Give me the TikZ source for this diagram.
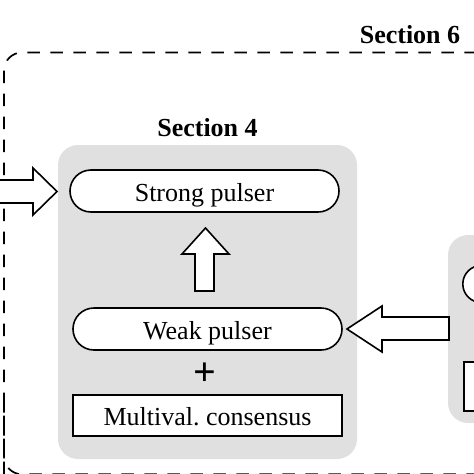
\documentclass[tikz,border=0pt]{standalone}
\usepackage{fontspec}
\setmainfont{Liberation Serif}
\definecolor{panel}{RGB}{224,224,224}
\tikzset{
  pill/.style={draw, line width=1.6pt, fill=white, rounded corners=21pt, minimum width=269pt, minimum height=42pt, inner sep=0pt, text height=21pt, text depth=0pt, font=\fontsize{26}{30}\selectfont},
  plainbox/.style={draw, line width=1.6pt, fill=white, minimum width=269pt, minimum height=41pt, inner sep=0pt, text height=20pt, text depth=0pt, font=\fontsize{26}{30}\selectfont},
  blockarrow/.style={draw, line width=1.6pt, fill=white, line join=miter},
  sectionlabel/.style={font=\fontsize{26}{30}\selectfont\bfseries, inner sep=0pt, anchor=base},
  panelbox/.style={fill=panel, rounded corners=20pt},
  sixdash/.style={line width=1.7pt, dash pattern=on 12.5pt off 10.5pt, rounded corners=18pt},
}
\begin{document}
\begin{tikzpicture}[x=1pt, y=-1pt]
\useasboundingbox (0,0) rectangle (474,474);
\clip (0,0) rectangle (474,474);
% outer dashed section 6
\draw[sixdash] (4,474) -- (4,52.5) -- (520,52.5);
\draw[sixdash] (4,400) -- (4,474.3) -- (520,474.3);
\node[sectionlabel] (sec6) at (410,43) {Section 6};
% section 4 panel
\fill[panelbox] (58,145) rectangle (357,459);
\node[sectionlabel] (sec4) at (207.5,136) {Section 4};
% right panel
\fill[panelbox] (448,235) rectangle (540,423);
\node[pill, minimum width=100pt, minimum height=37pt, rounded corners=18.5pt, anchor=west] (rpill) at (462,284) {};
\node[plainbox, minimum width=100pt, minimum height=49pt, anchor=west] (rbox) at (463,386.5) {};
% nodes
\node[pill] (strong) at (204.5,191) {Strong pulser};
\node[pill] (weak) at (207.5,329) {Weak pulser};
\node[font=\fontsize{40}{44}\selectfont\bfseries, inner sep=0pt] (plus) at (205,374) {+};
\node[plainbox] (multi) at (207.5,415.5) {Multival.\ consensus};
% block arrows
\draw[blockarrow] (-5,180) -- (33,180) -- (33,168) -- (57,191.5) -- (33,215) -- (33,203) -- (-5,203) -- cycle;
\draw[blockarrow] (195,291) -- (195,254) -- (182,254) -- (205.5,228) -- (229,254) -- (214,254) -- (214,291) -- cycle;
\draw[blockarrow] (449,317) -- (382,317) -- (382,306) -- (347,329) -- (382,352) -- (382,340) -- (449,340) -- cycle;
\end{tikzpicture}
\end{document}
